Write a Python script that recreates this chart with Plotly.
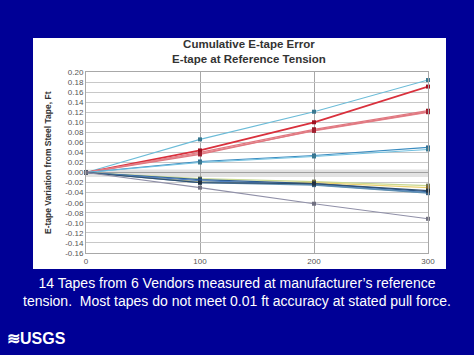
import plotly.graph_objects as go

tension = [0, 100, 200, 300]

tape_names = ["T1", "T2", "T3", "T4", "T5", "T6", "T7",
              "T8", "T9", "T10", "T11", "T12", "T13", "T14"]
tape_values = [
    [0, 0.066, 0.121, 0.184],
    [0, 0.044, 0.100, 0.171],
    [0, 0.040, 0.086, 0.123],
    [0, 0.038, 0.083, 0.120],
    [0, 0.036, 0.084, 0.121],
    [0, 0.022, 0.034, 0.050],
    [0, 0.020, 0.032, 0.046],
    [0, -0.012, -0.018, -0.026],
    [0, -0.018, -0.020, -0.030],
    [0, -0.014, -0.022, -0.038],
    [0, -0.016, -0.024, -0.040],
    [0, -0.020, -0.025, -0.041],
    [0, -0.020, -0.022, -0.036],
    [0, -0.030, -0.062, -0.092],
]
tape_colors = ["#6cbcd8", "#d9303c", "#e07880", "#e88890", "#e07880",
               "#3a8cc0", "#70c0e0", "#c8d890", "#e8d070", "#2a5a90",
               "#5080c0", "#6090b0", "#305070", "#9090a8"]
tape_widths = [1.1, 1.8, 1.3, 1.3, 1.3, 1.1, 1.1, 1.1, 1.1, 1.1, 1.1, 1.1, 1.1, 1.1]
marker_colors = ["#3a7890", "#a01020", "#901018", "#a01828", "#a02030",
                 "#2a6890", "#3a7890", "#707850", "#806830", "#1a3a60",
                 "#2a5080", "#3a6080", "#203040", "#707080"]

y_ticks = [round(-0.16 + 0.02 * i, 2) for i in range(19)]
x_ticks = [0, 100, 200, 300]

title_lines = ["Cumulative E-tape Error", "E-tape at Reference Tension"]
y_title = "E-tape Variation from Steel Tape, Ft"
caption = ["14 Tapes from 6 Vendors measured at manufacturer\u2019s reference",
           "tension.  Most tapes do not meet 0.01 ft accuracy at stated pull force."]

fig = go.Figure()

for name, vals, c, w, mc in zip(tape_names, tape_values, tape_colors, tape_widths, marker_colors):
    fig.add_trace(go.Scatter(
        x=tension, y=vals, mode="lines+markers", name=name,
        line=dict(color=c, width=w),
        marker=dict(color=mc, size=4, symbol="square"),
        showlegend=False, cliponaxis=False,
    ))

W, H = 474, 355
ml, mr, mt, mb = 86, 46, 72, 102
pw, ph = W - ml - mr, H - mt - mb

def px_x(x):
    return (x - ml) / pw

def px_y(y):
    return (H - mb - y) / ph

# white panel behind the chart
fig.add_shape(type="rect", xref="paper", yref="paper", layer="below",
              x0=px_x(33), x1=px_x(446), y0=px_y(269), y1=px_y(38),
              fillcolor="white", line=dict(width=0))
# gray band around zero
fig.add_shape(type="rect", xref="paper", yref="y", layer="below",
              x0=0, x1=1, y0=-0.009, y1=0.006,
              fillcolor="#e2e2e2", line=dict(width=0))

fig.update_layout(
    width=W, height=H,
    margin=dict(l=ml, r=mr, t=mt, b=mb),
    paper_bgcolor="#000096",
    plot_bgcolor="rgba(0,0,0,0)",
    font=dict(family="Liberation Sans, Arial, sans-serif"),
    xaxis=dict(range=[0, 300], tickvals=x_ticks, showgrid=True,
               gridcolor="#a8a8a8", gridwidth=1, zeroline=False,
               showline=True, linecolor="#a8a8a8", mirror=True,
               tickfont=dict(size=8, color="#555555"), ticks=""),
    yaxis=dict(range=[-0.16, 0.20], tickvals=y_ticks,
               ticktext=[f"{v:.2f}" for v in y_ticks],
               showgrid=True, gridcolor="#c8c8c8", gridwidth=1,
               zeroline=True, zerolinecolor="#a0a0a0", zerolinewidth=1,
               showline=True, linecolor="#a8a8a8", mirror=True,
               tickfont=dict(size=8, color="#555555"), ticks=""),
)

fig.add_annotation(text="<b>" + "<br>".join(title_lines) + "</b>",
                   xref="paper", yref="paper", x=px_x(249), y=px_y(67),
                   xanchor="center", yanchor="bottom",
                   showarrow=False, font=dict(size=11.5, color="#333333"))
fig.add_annotation(text="<b>" + y_title + "</b>", textangle=-90,
                   xref="paper", yref="paper", x=px_x(48), y=px_y(163),
                   xanchor="center", yanchor="middle", showarrow=False,
                   font=dict(size=8.5, color="#333333"))
fig.add_annotation(text="<br>".join(caption), xref="paper", yref="paper",
                   x=px_x(237), y=px_y(273),
                   xanchor="center", yanchor="top", showarrow=False,
                   font=dict(size=14, color="white"), align="center")
fig.add_annotation(text="<b>\u224bUSGS</b>", xref="paper", yref="paper",
                   x=px_x(5), y=px_y(328),
                   xanchor="left", yanchor="top", showarrow=False,
                   font=dict(size=16, color="white",
                             family="Liberation Sans Narrow, Arial Narrow, sans-serif"))

fig.write_html("out.html",
               config={"displayModeBar": False},
               post_script="document.body.style.margin='0';"
                           "document.body.style.background='#000096';")
